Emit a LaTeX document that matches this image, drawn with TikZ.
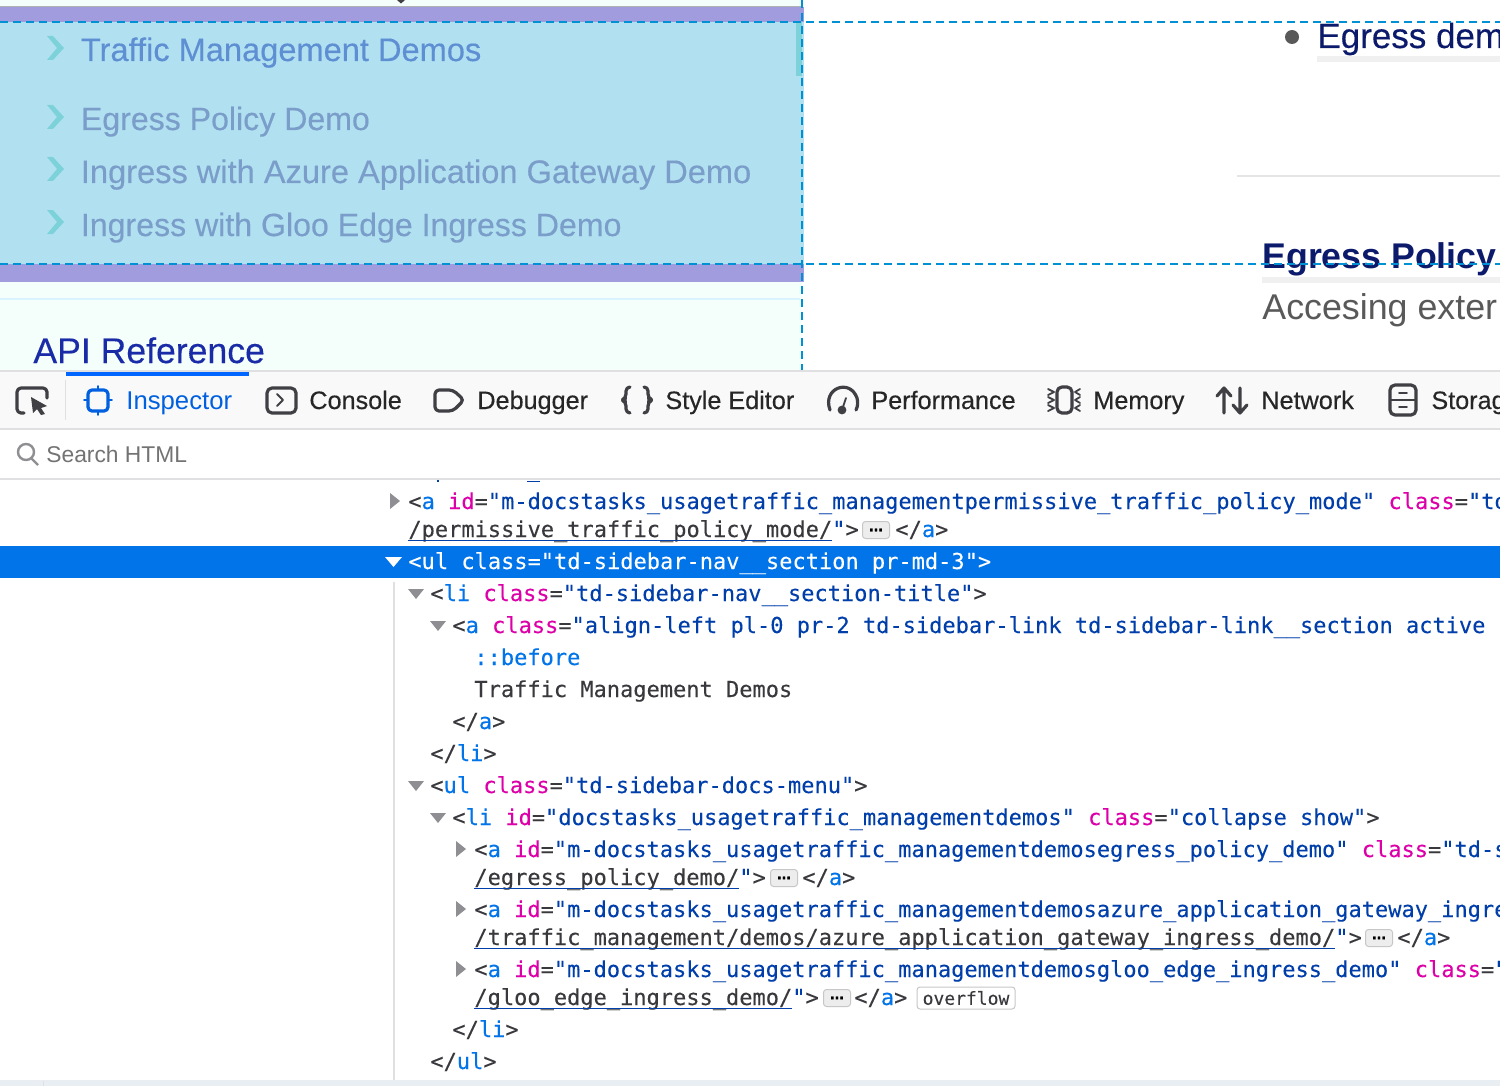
\documentclass[tikz,border=0pt]{standalone}
\usepackage{fontspec}
\usepackage{xcolor}
\usetikzlibrary{positioning}
\setmainfont{Liberation Sans}
\newfontfamily\monofont[FakeBold=0.12]{DejaVu Sans Mono}
\newfontfamily\medfont[FakeBold=0.3]{Liberation Sans}
\definecolor{sidebg}{HTML}{F4FFFB}
\definecolor{marginc}{HTML}{A09CDD}
\definecolor{contentc}{HTML}{B1E1F1}
\definecolor{guidec}{HTML}{0090D4}
\definecolor{chevc}{HTML}{7DD2D9}
\definecolor{navc}{HTML}{0B1A6B}
\definecolor{apic}{HTML}{1A2BA8}
\definecolor{titlec}{HTML}{5F8FD3}
\definecolor{itemc}{HTML}{7A9EC9}
\definecolor{barbg}{HTML}{F9F9FA}
\definecolor{linec}{HTML}{E0E0E2}
\definecolor{footc}{HTML}{E8EEF2}
\definecolor{iconc}{HTML}{3F3F44}
\definecolor{activec}{HTML}{0060DF}
\definecolor{selc}{HTML}{0074E8}
\definecolor{tagc}{HTML}{0074E8}
\definecolor{attrc}{HTML}{DD00A9}
\definecolor{valc}{HTML}{003EAA}
\definecolor{textc}{HTML}{38383D}
\definecolor{arrowc}{HTML}{8E8E93}
\newsavebox{\lnkbox}
\newcommand{\tagn}[1]{\textcolor{tagc}{#1}}
\newcommand{\attrn}[1]{\textcolor{attrc}{#1}}
\newcommand{\valn}[1]{\textcolor{valc}{#1}}
\newcommand{\lnk}[1]{\sbox{\lnkbox}{#1}\textcolor{valc}{\rlap{\usebox{\lnkbox}}\rule[-2pt]{\wd\lnkbox}{.5pt}}}
\newcommand{\ellip}{.\kern-1.9pt.\kern-1.9pt.}
\begin{document}
\begin{tikzpicture}[
    x=.5pt,y=-.5pt,
    code/.style={anchor=base west,inner sep=0,text=textc,font=\fontsize{11}{13}\monofont},
    selcode/.style={code,text=white},
    side/.style={anchor=base west,inner sep=0,text=itemc,font=\fontsize{16.3}{19}\medfont},
    tab/.style={anchor=base west,inner sep=0,text=black!85,font=\fontsize{12.6}{15}\medfont},
    icon/.style={draw=iconc,line width=1.6pt,line join=round,line cap=round},
    thin icon/.style={icon,line width=.9pt},
    guide/.style={draw=guidec,line width=.6pt,dash pattern=on 4pt off 2.5pt},
    badge/.style={anchor=center,draw=black!22,fill=black!7,rounded corners=1.5pt,line width=.5pt,
        minimum width=13.5pt,minimum height=8.5pt,inner sep=0,font=\fontsize{7}{7}\bfseries\monofont},
]
\useasboundingbox (0,0) rectangle (1500,1086);
\clip (0,0) rectangle (1500,1086);
\fill[white] (0,0) rectangle (1500,1086);
% page behind the overlay
\fill[sidebg] (0,0) rectangle (802,370);
\draw[black!30,line width=.5pt] (0,6.5) -- (802,6.5);
\fill[iconc] (397,0) -- (405,0) -- (401,3.5) -- cycle;
\fill[marginc] (0,7) rectangle (804,282);
\fill[contentc] (0,22) rectangle (804,264);
\fill[chevc] (796,22) rectangle (802,76);
\fill[blue!30!cyan!15] (0,298) rectangle (800,300);
\foreach \cy in {48,117,169,222}
    \fill[chevc] (47,\cy-12) -- (53,\cy-12) -- (64,\cy) -- (53,\cy+12) -- (47,\cy+12) -- (57,\cy) -- cycle;
\node[side,text=titlec] (demos) at (80.5,61) {Traffic Management Demos};
\node[side,font=\fontsize{16.05}{19}\medfont] (egress) at (80.5,130) {Egress Policy Demo};
\node[side] (azure) at (80.5,183) {Ingress with Azure Application Gateway Demo};
\node[side,font=\fontsize{16.05}{19}\medfont] (gloo) at (80.5,236) {Ingress with Gloo Edge Ingress Demo};
\node[side,text=apic,font=\fontsize{17.8}{22}\medfont] (api) at (33,363) {API Reference};
% right column
\fill[black!65] (1292,37) circle (3.5pt);
\fill[black!6] (1317,56) rectangle (1500,62);
\node[side,text=navc,font=\fontsize{17.5}{21}\medfont] (egressdem) at (1317,48) {Egress dem};
\fill[black!10] (1237,175) rectangle (1500,177);
\fill[black!6] (1262,277) rectangle (1500,283);
\node[side,text=navc,font=\fontsize{17.85}{21}\bfseries] (policy) at (1262,268) {Egress Policy};
\node[side,text=black!65,font=\fontsize{17.9}{21}\selectfont] (access) at (1262,319) {Accesing exter};
\draw[guide] (0,22) -- (1500,22);
\draw[guide] (0,264) -- (1500,264);
\draw[guide] (802,0) -- (802,370);
% toolbar
\fill[barbg] (0,371) rectangle (1500,429);
\fill[linec] (0,370) rectangle (1500,372);
\fill[linec] (0,428) rectangle (1500,430);
\fill[blue!60!cyan] (66,372) rectangle (249,376);
\draw[linec,line width=.5pt] (65,380) -- (65,420);
\draw[icon,rounded corners=2pt] (24,413) -- (17,413) -- (17,388) -- (47,388) -- (47,398);
\fill[iconc] (31,397) -- (47,406) -- (41,408) -- (45,414) -- (41,415) -- (37,409) -- (33,413) -- cycle;
\draw[icon,draw=activec,rounded corners=2pt] (88,390) rectangle (108,411);
\draw[thin icon,draw=activec] (98,386) -- (98,390) (98,411) -- (98,415) (84,400) -- (88,400) (108,400) -- (112,400);
\node[tab,text=activec,font=\fontsize{12.85}{15}\selectfont] (inspector) at (126,409) {Inspector};
\draw[icon,rounded corners=2.5pt] (267,388) rectangle (296,413);
\draw[thin icon] (277,394) -- (283,400) -- (277,406);
\node[tab] (console) at (309,409) {Console};
\draw[icon,rounded corners=2pt] (435,390) -- (453,390) -- (464,400) -- (453,411) -- (435,411) -- cycle;
\node[tab] (debugger) at (477,409) {Debugger};
\draw[icon,rounded corners=2pt] (630,387) -- (626,387) -- (626,398) -- (622,400) -- (626,402) -- (626,413) -- (630,413);
\draw[icon,rounded corners=2pt] (644,387) -- (648,387) -- (648,398) -- (652,400) -- (648,402) -- (648,413) -- (644,413);
\node[tab] (style) at (665,409) {Style Editor};
\draw[icon] (830,410) .. controls (822,388) and (850,378) .. (857,398) .. controls (858,402) and (858,406) .. (856,410);
\fill[iconc] (842,410) circle (2.2pt);
\draw[thin icon] (842,410) -- (846,398);
\node[tab] (perf) at (871,409) {Performance};
\draw[icon,rounded corners=2.5pt] (1057,387) rectangle (1072,413);
\foreach \ty in {392,400,408} {
    \draw[thin icon] (1048,\ty-3) -- (1054,\ty) -- (1048,\ty+3);
    \draw[thin icon] (1080,\ty-3) -- (1075,\ty) -- (1080,\ty+3);
}
\node[tab] (memory) at (1093,409) {Memory};
\draw[icon] (1224,413) -- (1224,388) (1217,396) -- (1224,388) -- (1231,396);
\draw[icon] (1240,388) -- (1240,413) (1233,405) -- (1240,413) -- (1247,405);
\node[tab] (network) at (1261,409) {Network};
\draw[icon,rounded corners=2.5pt] (1390,385) rectangle (1416,415);
\draw[thin icon] (1390,400) -- (1416,400) (1399,393) -- (1407,393) (1399,407) -- (1407,407);
\node[tab] (storage) at (1431,409) {Storag};
% search bar
\draw[arrowc,line width=1.2pt] (26,452) circle (4pt) (31,458) -- (38,465);
\node[tab,text=black!55,font=\fontsize{11.4}{14}\selectfont] (search) at (46,462) {Search HTML};
\fill[linec] (0,478) rectangle (1500,480);
% markup panel
\fill[valc] (437,480) rectangle (439,482);
\fill[valc] (527,481) rectangle (540,482);
\fill[selc] (0,546) rectangle (1500,578);
\fill[footc] (0,1080) rectangle (1500,1086);
\fill[linec] (393,582) rectangle (395,1080);
\fill[linec] (43,1081) rectangle (44,1086);
\foreach \ax/\ay in {395/501,461/849,461/909,461/969}
    \fill[arrowc] (\ax-5,\ay-8) -- (\ax+5,\ay) -- (\ax-5,\ay+8) -- cycle;
\foreach \ax/\ay in {416/594,438/626,416/786,438/818}
    \fill[arrowc] (\ax-8,\ay-5) -- (\ax+8,\ay-5) -- (\ax,\ay+5) -- cycle;
\fill[white] (385,557) -- (402,557) -- (393.5,567) -- cycle;
\node[code] (l1) at (408,509) {<\tagn{a} \attrn{id}=\valn{"m-docstasks\_usagetraffic\_managementpermissive\_traffic\_policy\_mode"} \attrn{class}=\valn{"td}};
\node[code] (l2) at (408,537) {\lnk{/permissive\_traffic\_policy\_mode/}\valn{"}>};
\node[badge] (b2) at (876,530) {\ellip};
\node[code] (l2b) at (895,537) {</\tagn{a}>};
\node[selcode] (l3) at (408,569) {<ul class="td-sidebar-nav\_\_section pr-md-3">};
\node[code] (l4) at (430,601) {<\tagn{li} \attrn{class}=\valn{"td-sidebar-nav\_\_section-title"}>};
\node[code] (l5) at (452,633) {<\tagn{a} \attrn{class}=\valn{"align-left pl-0 pr-2 td-sidebar-link td-sidebar-link\_\_section active "}};
\node[code] (l6) at (474,665) {\tagn{::before}};
\node[code] (l7) at (474,697) {Traffic Management Demos};
\node[code] (l8) at (452,729) {</\tagn{a}>};
\node[code] (l9) at (430,761) {</\tagn{li}>};
\node[code] (l10) at (430,793) {<\tagn{ul} \attrn{class}=\valn{"td-sidebar-docs-menu"}>};
\node[code] (l11) at (452,825) {<\tagn{li} \attrn{id}=\valn{"docstasks\_usagetraffic\_managementdemos"} \attrn{class}=\valn{"collapse show"}>};
\node[code] (l12) at (474,857) {<\tagn{a} \attrn{id}=\valn{"m-docstasks\_usagetraffic\_managementdemosegress\_policy\_demo"} \attrn{class}=\valn{"td-s}};
\node[code] (l13) at (474,885) {\lnk{/egress\_policy\_demo/}\valn{"}>};
\node[badge] (b13) at (784,878) {\ellip};
\node[code] (l13b) at (802,885) {</\tagn{a}>};
\node[code] (l14) at (474,917) {<\tagn{a} \attrn{id}=\valn{"m-docstasks\_usagetraffic\_managementdemosazure\_application\_gateway\_ingre}};
\node[code] (l15) at (474,945) {\lnk{/traffic\_management/demos/azure\_application\_gateway\_ingress\_demo/}\valn{"}>};
\node[badge] (b15) at (1379,938) {\ellip};
\node[code] (l15b) at (1397,945) {</\tagn{a}>};
\node[code] (l16) at (474,977) {<\tagn{a} \attrn{id}=\valn{"m-docstasks\_usagetraffic\_managementdemosgloo\_edge\_ingress\_demo"} \attrn{class}=\valn{"}};
\node[code] (l17) at (474,1005) {\lnk{/gloo\_edge\_ingress\_demo/}\valn{"}>};
\node[badge] (b17) at (837,998) {\ellip};
\node[code] (l17b) at (854,1005) {</\tagn{a}>};
\node[badge,fill=white,minimum width=49pt,minimum height=11pt,font=\fontsize{9}{9}\monofont,text=textc] (over) at (966,998) {overflow};
\node[code] (l18) at (452,1037) {</\tagn{li}>};
\node[code] (l19) at (430,1069) {</\tagn{ul}>};
\end{tikzpicture}
\end{document}
